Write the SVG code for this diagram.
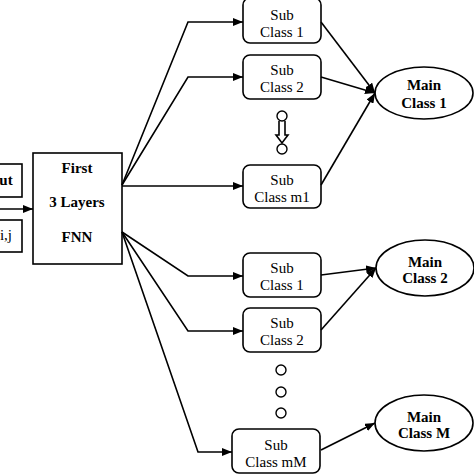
<svg xmlns="http://www.w3.org/2000/svg" width="474" height="474" viewBox="0 0 474 474">
<defs>
<marker id="ah" viewBox="0 0 10 8" refX="10" refY="4" markerWidth="10" markerHeight="8" markerUnits="userSpaceOnUse" orient="auto">
<path d="M0,0 L10,4 L0,8 Z" fill="#000"/>
</marker>
</defs>
<style>
.box{fill:#fff;stroke:#000;stroke-width:1.6}
.ln{fill:none;stroke:#000;stroke-width:1.6}
text{font-family:'Liberation Serif','Times New Roman',serif}
.t{font-size:15px;text-anchor:middle;fill:#000}
.b{font-weight:bold}
.dot{fill:#fff;stroke:#000;stroke-width:1.4}
</style>
<rect width="474" height="474" fill="#fff"/>
<g font-family="Liberation Serif, serif">
<g id="input1">
<rect class="box" x="-10" y="164" width="32" height="33"/>
<text class="t b" x="6" y="185">ut</text>
</g>
<g id="input2">
<rect class="box" x="-10" y="220" width="32" height="32"/>
<text class="t" x="6" y="240">i,j</text>
</g>
<g id="fnn">
<rect class="box" x="33" y="153" width="89" height="111"/>
<text class="t b" x="77" y="173">First</text>
<text class="t b" x="77" y="207">3 Layers</text>
<text class="t b" x="77" y="242">FNN</text>
</g>
<g id="sub1a">
<rect class="box" x="243" y="-2" width="78" height="45" rx="7"/>
<text class="t" x="282" y="20">Sub</text>
<text class="t" x="282" y="37">Class 1</text>
</g>
<g id="sub2a">
<rect class="box" x="243" y="55" width="78" height="44" rx="7"/>
<text class="t" x="282" y="75">Sub</text>
<text class="t" x="282" y="92">Class 2</text>
</g>
<g id="subm1">
<rect class="box" x="243" y="165" width="78" height="43" rx="7"/>
<text class="t" x="282" y="185">Sub</text>
<text class="t" x="282" y="202">Class m1</text>
</g>
<g id="sub1b">
<rect class="box" x="243" y="253" width="78" height="44" rx="7"/>
<text class="t" x="282" y="273">Sub</text>
<text class="t" x="282" y="290">Class 1</text>
</g>
<g id="sub2b">
<rect class="box" x="243" y="308" width="78" height="44" rx="7"/>
<text class="t" x="282" y="328">Sub</text>
<text class="t" x="282" y="345">Class 2</text>
</g>
<g id="submM">
<rect class="box" x="232" y="429" width="88" height="44" rx="7"/>
<text class="t" x="276" y="450">Sub</text>
<text class="t" x="276" y="467">Class mM</text>
</g>
<g id="main1">
<ellipse class="box" cx="424" cy="93" rx="49" ry="26"/>
<text class="t b" x="424" y="90">Main</text>
<text class="t b" x="424" y="108">Class 1</text>
</g>
<g id="main2">
<ellipse class="box" cx="425" cy="268" rx="49" ry="28"/>
<text class="t b" x="425" y="267">Main</text>
<text class="t b" x="425" y="283">Class 2</text>
</g>
<g id="mainM">
<ellipse class="box" cx="424" cy="423" rx="49" ry="28"/>
<text class="t b" x="424" y="422">Main</text>
<text class="t b" x="424" y="438">Class M</text>
</g>
</g>
<g id="dots">
<circle class="dot" cx="282" cy="116" r="5"/>
<circle class="dot" cx="282" cy="149" r="5"/>
<path class="ln" d="M279,121 V135 H276 L282,143 L288,135 H285 V121" stroke-width="1.3"/>
<circle class="dot" cx="281" cy="370" r="5"/>
<circle class="dot" cx="281" cy="392" r="5"/>
<circle class="dot" cx="281" cy="413" r="5"/>
</g>
<g id="connectors">
<path class="ln" d="M0,209 H33" marker-end="url(#ah)"/>
<path class="ln" d="M122,185 L188,22 H243" marker-end="url(#ah)"/>
<path class="ln" d="M122,185 L188,77 H243" marker-end="url(#ah)"/>
<path class="ln" d="M122,186 H243" marker-end="url(#ah)"/>
<path class="ln" d="M122,232 L188,276 H243" marker-end="url(#ah)"/>
<path class="ln" d="M122,232 L188,331 H243" marker-end="url(#ah)"/>
<path class="ln" d="M122,232 L198,452 H232" marker-end="url(#ah)"/>
<path class="ln" d="M321,22 L375,93" marker-end="url(#ah)"/>
<path class="ln" d="M321,77 L375,93" marker-end="url(#ah)"/>
<path class="ln" d="M321,185 L375,93" marker-end="url(#ah)"/>
<path class="ln" d="M321,275 L376,268" marker-end="url(#ah)"/>
<path class="ln" d="M321,330 L376,268" marker-end="url(#ah)"/>
<path class="ln" d="M321,450 L375,423" marker-end="url(#ah)"/>
</g>
</svg>
